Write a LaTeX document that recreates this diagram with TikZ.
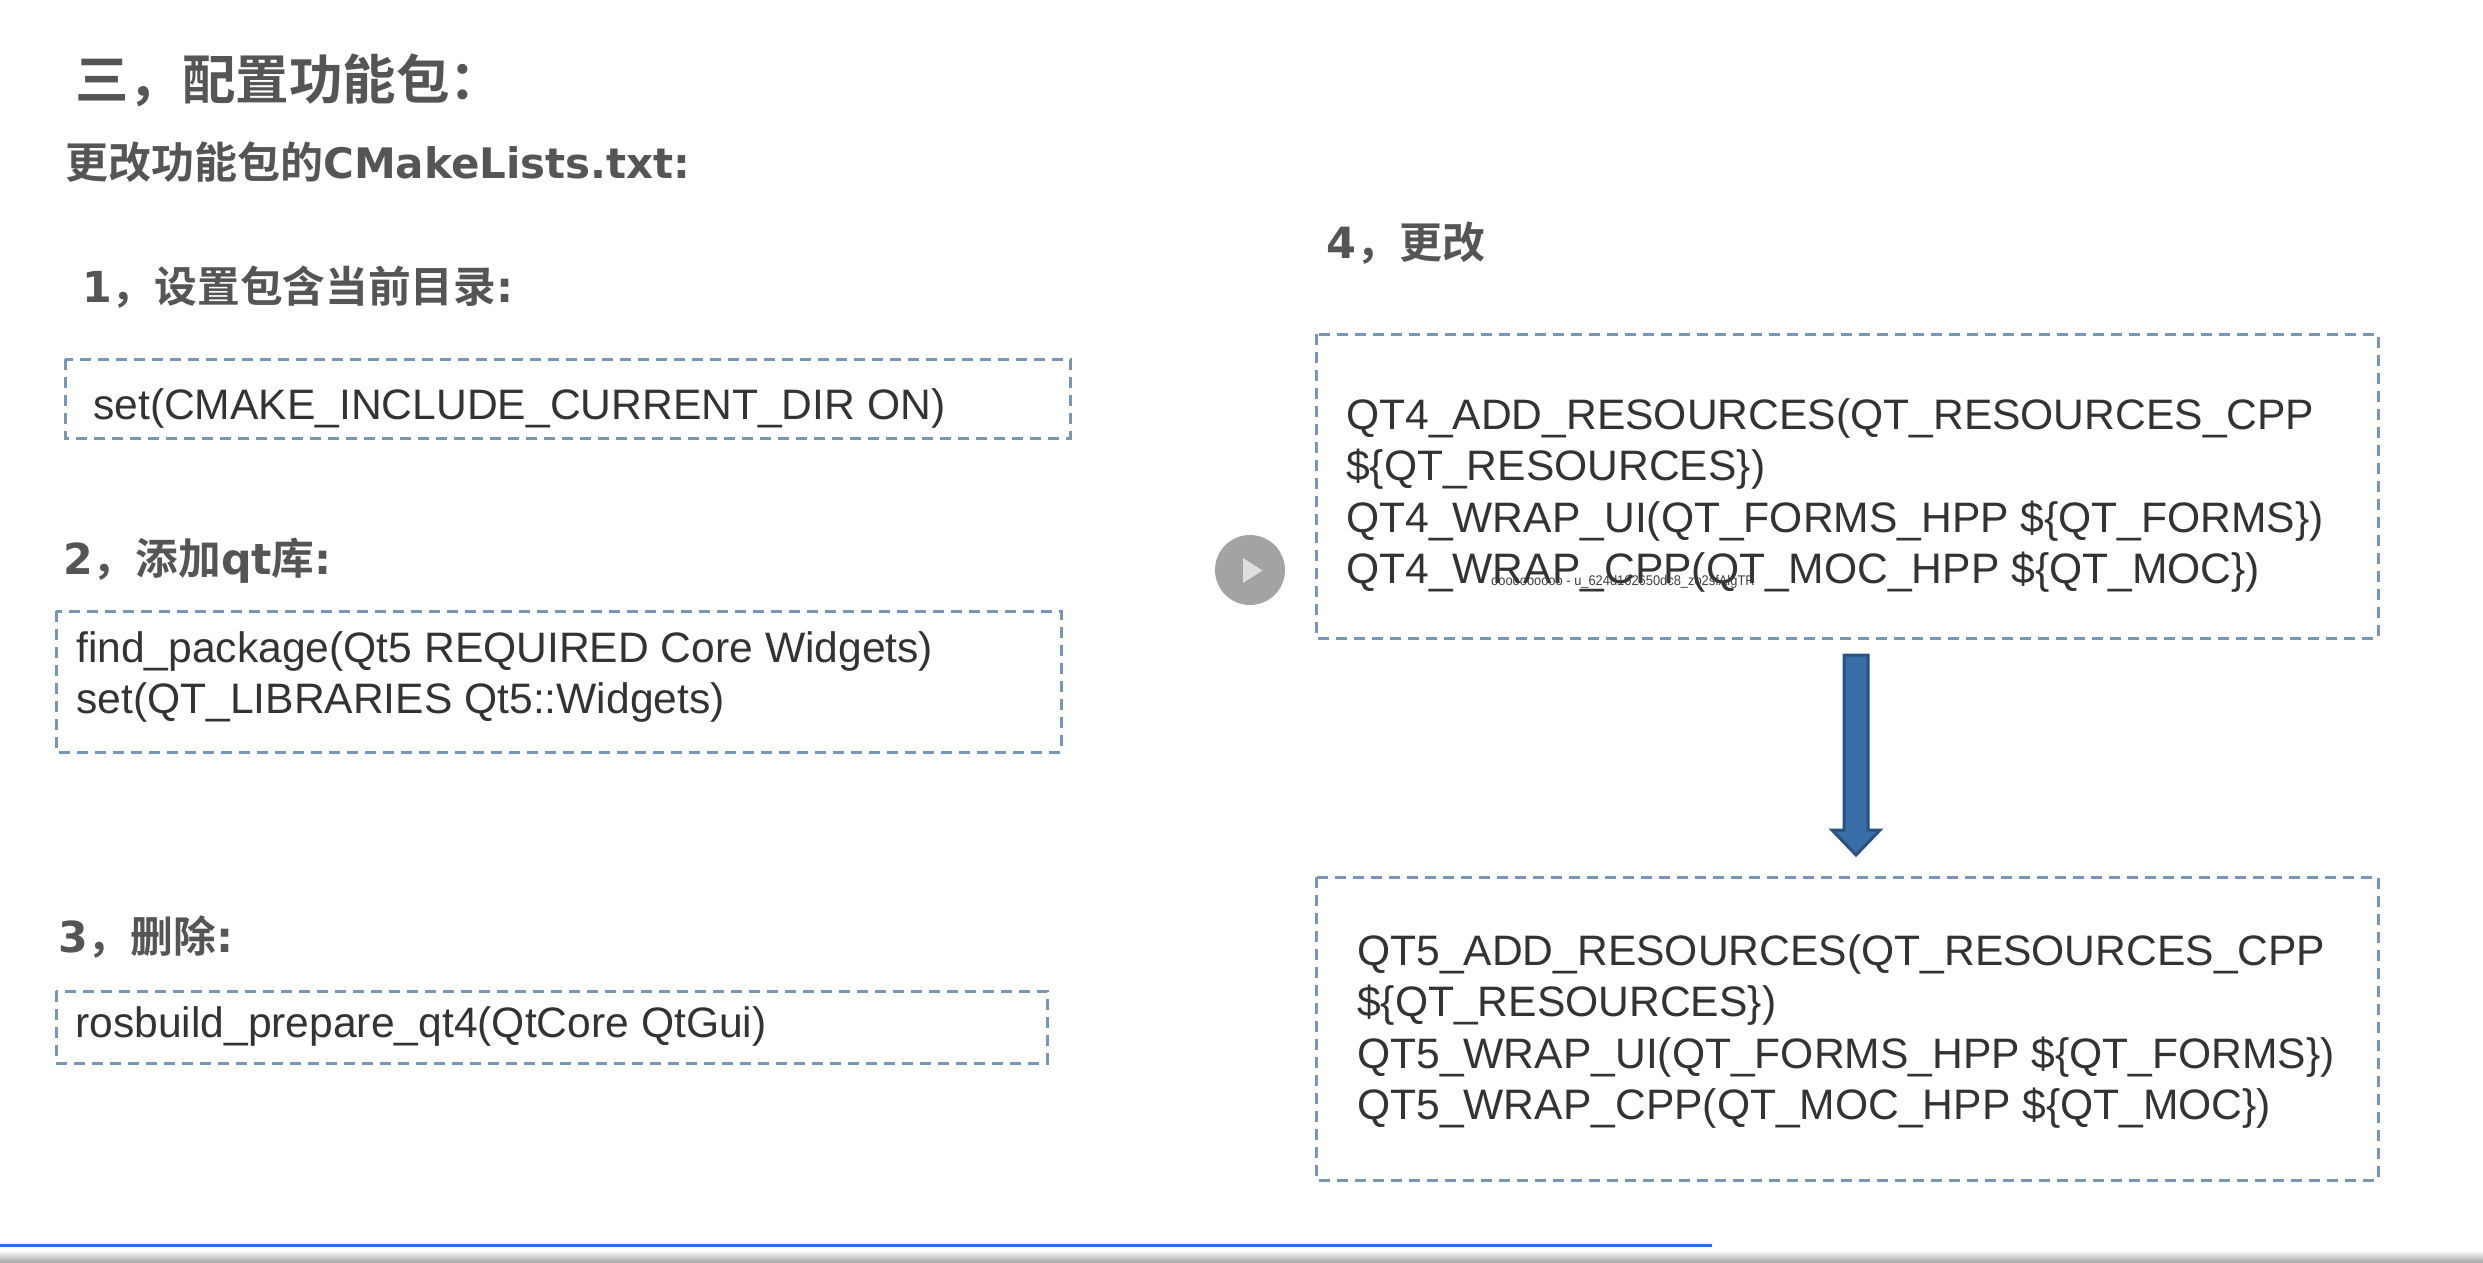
\documentclass[tikz,border=0pt]{standalone}
\usepackage{fontspec}
\setmainfont{Liberation Sans}
\newfontfamily\cjkbold{Noto Sans CJK SC Bold}
\newfontfamily\latinbold{DejaVu Sans Bold}
\newcommand{\lb}[1]{{\latinbold #1}}
\definecolor{dashc}{HTML}{7896B8}
\definecolor{bodyc}{HTML}{333333}
\definecolor{headc}{HTML}{555555}
\definecolor{barblue}{HTML}{1A73E8}
\definecolor{arrowfill}{HTML}{3A6EA8}
\definecolor{arrowline}{HTML}{2A5280}
\tikzset{
  x=1pt,y=-1pt,
  codebox/.style={draw=dashc,line width=3pt,dash pattern=on 11pt off 7pt},
  code/.style={anchor=base west,inner sep=0pt,align=left,text=bodyc,font=\fontsize{42.6}{51.5}\selectfont},
  head/.style={anchor=base west,inner sep=0pt,text=headc,font=\cjkbold\fontsize{#1}{#1}\selectfont},
}
\begin{document}
\begin{tikzpicture}
\useasboundingbox (0,0) rectangle (2483,1262);
\fill[white] (0,0) rectangle (2483,1262);
\node[head=53.5] (title) at (75,99) {三，配置功能包：};
\node[head=43] (sub) at (65,178) {更改功能包的{\latinbold\fontsize{42}{42}\selectfont CMakeLists.txt:}};
\node[head=42.7] (h1) at (82,302) {\lb{1}，设置包含当前目录\lb{:}};
\node[head=42.7] (h2) at (63,574) {\lb{2}，添加\lb{qt}库\lb{:}};
\node[head=42.7] (h3) at (58,952) {\lb{3}，删除\lb{:}};
\node[head=43] (h4) at (1326,258) {\lb{4}，更改};
\draw[codebox] (65,359) rectangle (1070,438);
\draw[codebox] (56,611) rectangle (1061,752);
\draw[codebox] (56,991) rectangle (1047,1063);
\draw[codebox] (1316,334) rectangle (2378,638);
\draw[codebox] (1316,877) rectangle (2378,1180);
\node[code] (c1) at (93,419) {set(CMAKE\_INCLUDE\_CURRENT\_DIR ON)};
\node[code,anchor=north west] (c2) at (76,631) {find\_package(Qt5 REQUIRED Core Widgets)\\set(QT\_LIBRARIES Qt5::Widgets)};
\node[code] (c3) at (75,1037) {rosbuild\_prepare\_qt4(QtCore QtGui)};
\node[code,anchor=north west] (c4) at (1346,398) {QT4\_ADD\_RESOURCES(QT\_RESOURCES\_CPP\\\$\{QT\_RESOURCES\})\\QT4\_WRAP\_UI(QT\_FORMS\_HPP \$\{QT\_FORMS\})\\QT4\_WRAP\_CPP(QT\_MOC\_HPP \$\{QT\_MOC\})};
\node[code,anchor=north west] (c5) at (1357,934) {QT5\_ADD\_RESOURCES(QT\_RESOURCES\_CPP\\\$\{QT\_RESOURCES\})\\QT5\_WRAP\_UI(QT\_FORMS\_HPP \$\{QT\_FORMS\})\\QT5\_WRAP\_CPP(QT\_MOC\_HPP \$\{QT\_MOC\})};
\fill[arrowfill,draw=arrowline,line width=3pt,line join=miter] (1844,655) -- (1868,655) -- (1868,830) -- (1880,830) -- (1856,855) -- (1832,830) -- (1844,830) -- cycle;
\fill[black!36] (1250,570) circle (35);
\fill[black!13] (1243,558) -- (1262.5,570.5) -- (1243,583) -- cycle;
\node[anchor=base west,inner sep=0pt,text=black!75,xscale=0.92,font=\fontsize{14}{14}\selectfont] (wm) at (1491,585) {oooooooooo - u\_624d162650dc8\_zo2sfAlgTR};
\shade[top color=white,bottom color=black!33] (0,1250) rectangle (2483,1262);
\fill[barblue] (0,1243.5) rectangle (1712,1247);
\end{tikzpicture}
\end{document}
